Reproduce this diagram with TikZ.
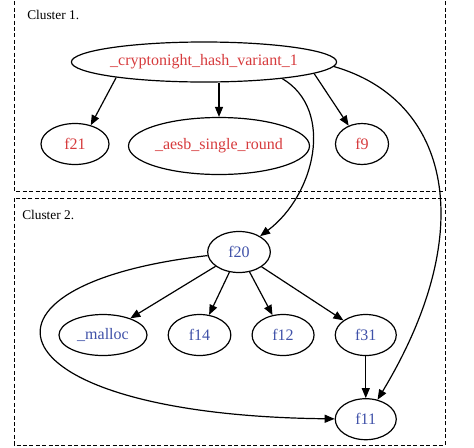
\documentclass[tikz,border=0pt]{standalone}
\usepackage{fontspec}
\setmainfont{Liberation Serif}
\usetikzlibrary{arrows.meta, positioning, shapes.geometric}
\definecolor{fnred}{HTML}{D63A3C}
\definecolor{fnblue}{HTML}{3F51A8}
\tikzset{
  fn/.style={ellipse, draw=black, line width=0.9pt, inner sep=0pt,
             minimum width=47pt, minimum height=30.75pt, font=\fontsize{12}{14}\selectfont},
  fnone/.style={fn, text=fnred},
  fntwo/.style={fn, text=fnblue},
  cluster/.style={draw=black, line width=0.75pt, dash pattern=on 3pt off 1.8pt},
  clabel/.style={anchor=west, inner sep=0pt, font=\fontsize{10}{12}\selectfont},
  call/.style={-{Triangle[length=7.5pt, width=6pt]}, line width=0.9pt}
}

\begin{document}
\begin{tikzpicture}[x=0.75pt, y=-0.75pt, node distance=31.5pt and 15pt]
  \clip (0,0) rectangle (474,447);

  % clusters
  \draw[cluster] (14,-5) rectangle (445,191);
  \draw[cluster] (14,198) rectangle (445,445);
  \node[clabel] (c1) at (27,15) {Cluster 1.};
  \node[clabel] (c2) at (22,215) {Cluster 2.};

  % cluster 1
  \node[fnone, minimum width=195pt, minimum height=30pt] (crypto) at (204,62) {\_cryptonight\_hash\_variant\_1};
  \node[fnone, minimum width=51pt] (f21) at (75,144) {f21};
  \node[fnone, minimum width=105pt, minimum height=42.75pt] (aesb) at (219,146) {\_aesb\_single\_round};
  \node[fnone, minimum width=39.75pt] (f9) at (362,144) {f9};

  % cluster 2
  \node[fntwo] (f20) at (239,252) {f20};
  \node[fntwo, minimum width=66pt] (malloc) at (103,335) {\_malloc};
  \node[fntwo, right=of malloc] (f14) {f14};
  \node[fntwo, right=of f14, minimum width=46.5pt] (f12) {f12};
  \node[fntwo, right=of f12, minimum width=45.75pt] (f31) {f31};
  \node[fntwo, below=of f31, minimum width=45.75pt] (f11) {f11};

  \draw[call] (crypto.190) -- (f21.50);
  \draw[call] (crypto.south -| aesb) -- (aesb);
  \draw[call] (crypto.354) -- (f9.126);
  \draw[call] (crypto.348) .. controls (335,110) and (315,195) .. (f20);
  \draw[call] (crypto.358) .. controls (450,100) and (480,230) .. (f11);
  \draw[call] (f20) -- (malloc);
  \draw[call] (f20) -- (f14);
  \draw[call] (f20) -- (f12);
  \draw[call] (f20) -- (f31);
  \draw[call] (f31) -- (f11);
  \draw[call] (f20) .. controls (-50,285) and (-10,415) .. (f11);
\end{tikzpicture}
\end{document}
